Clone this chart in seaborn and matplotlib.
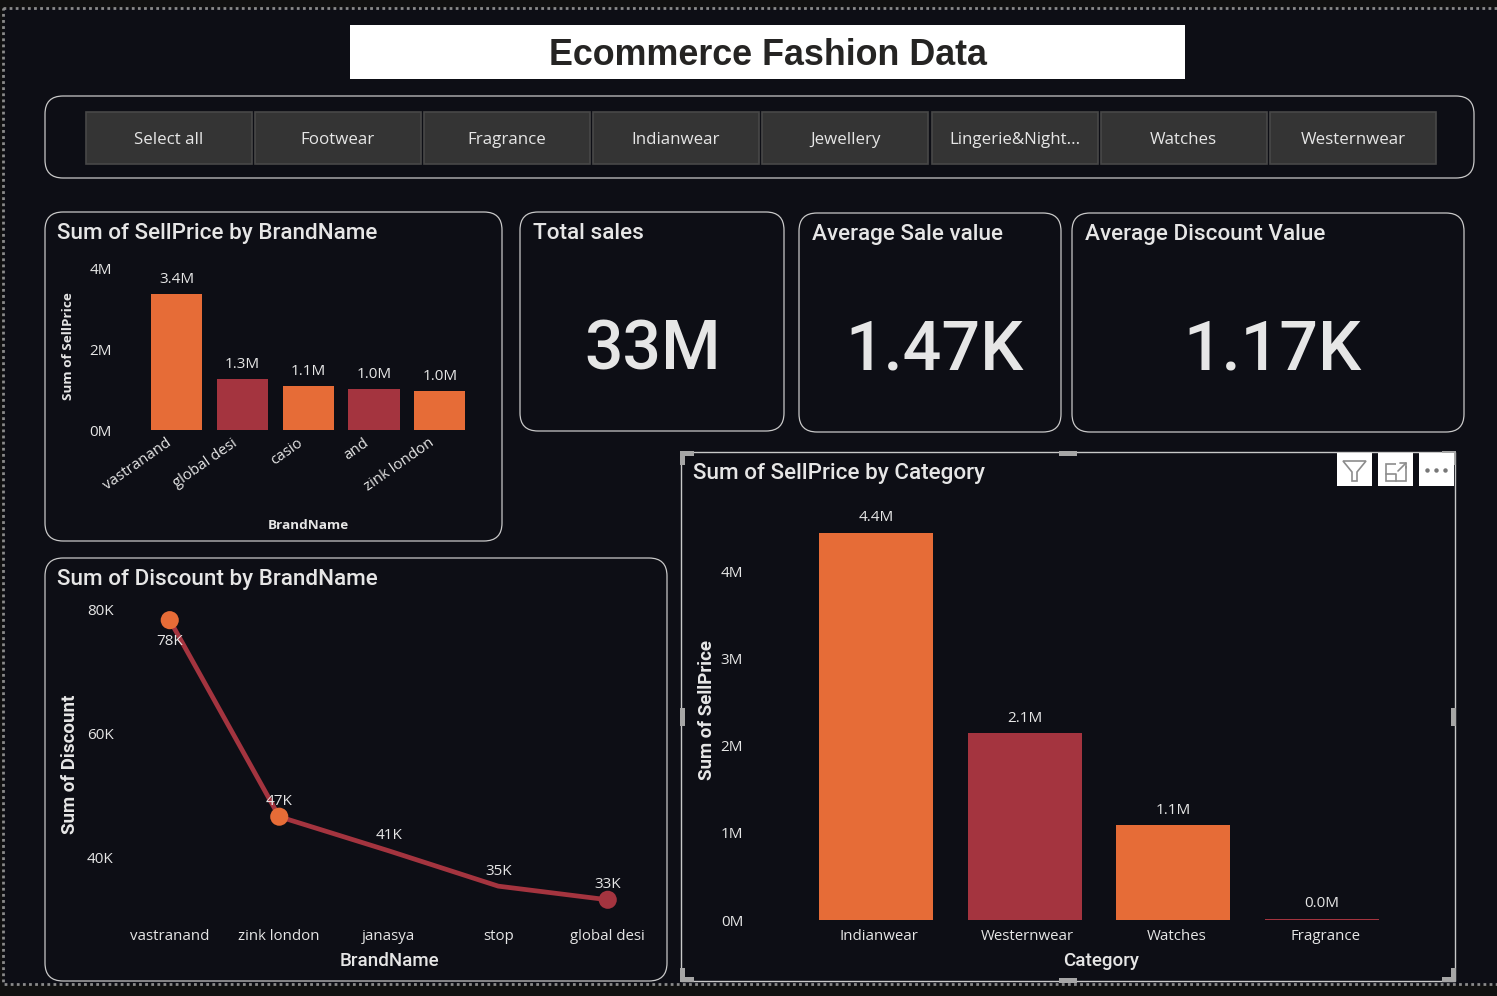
import seaborn as sns
import pandas as pd
from matplotlib import pyplot as plt
from matplotlib.patches import FancyBboxPatch, Rectangle, Polygon
from matplotlib.transforms import ScaledTranslation

# data
brand_names = ['vastranand', 'global desi', 'casio', 'and', 'zink london']
brand_sell = [3.36, 1.26, 1.09, 1.01, 0.96]
brand_labels = ['3.4M', '1.3M', '1.1M', '1.0M', '1.0M']

disc_names = ['vastranand', 'zink london', 'janasya', 'stop', 'global desi']
disc_values = [78.2, 46.5, 41.0, 35.3, 33.1]
disc_labels = ['78K', '47K', '41K', '35K', '33K']

cat_names = ['Indianwear', 'Westernwear', 'Watches', 'Fragrance']
cat_sell = [4.44, 2.14, 1.09, 0.016]
cat_labels = ['4.4M', '2.1M', '1.1M', '0.0M']

slicer_names = ['Select all', 'Footwear', 'Fragrance', 'Indianwear', 'Jewellery',
                'Lingerie&Night...', 'Watches', 'Westernwear']
kpi_titles = ['Total sales', 'Average Sale value', 'Average Discount Value']
kpi_values = ['33M', '1.47K', '1.17K']

W, H = 1497, 996
BG = '#0d0e15'
ORANGE = '#e66c37'
RED = '#a4343f'
TXT = '#e6e6e6'
HEAD = 'Roboto'
BODY = 'Open Sans'

sns.set_theme(style='dark')
plt.rcParams['font.family'] = ['Open Sans', 'DejaVu Sans']
plt.rcParams['axes.grid'] = False

fig = plt.figure(figsize=(W / 100, H / 100), dpi=100, facecolor='#111111')

bg = fig.add_axes([0, 0, 1, 1], zorder=0)
bg.set_xlim(0, W)
bg.set_ylim(H, 0)
bg.axis('off')


def px_axes(left, top, right, bottom):
    ax = fig.add_axes([left / W, 1 - bottom / H, (right - left) / W, (bottom - top) / H], zorder=2)
    ax.patch.set_alpha(0)
    for s in ax.spines.values():
        s.set_visible(False)
    ax.tick_params(length=0, colors=TXT)
    return ax


def card(x0, y0, x1, y1, r=18, lw=0.9, color='#c8c8c8'):
    bg.add_patch(FancyBboxPatch((x0 + r, y0 + r), x1 - x0 - 2 * r, y1 - y0 - 2 * r,
                                boxstyle='round,pad=%d,rounding_size=%d' % (r, r),
                                fc='none', ec=color, lw=lw))


def head(x, y, s):
    bg.text(x, y, s, color=TXT, fontsize=16.2, family=HEAD, fontweight='medium', va='center', ha='left')


# page
bg.add_patch(Rectangle((3, 8), W, 976, fc=BG, ec='#8a8a8a', lw=2, ls=(0, (1, 1.2))))

# title banner
bg.add_patch(Rectangle((350, 25), 835, 54, fc='white', ec='none'))
bg.text(768, 55, 'Ecommerce Fashion Data', color='#252423', fontsize=25.8, fontweight='bold',
        family='Liberation Sans', ha='center', va='center')

# slicer
card(45, 96, 1474, 178, r=18)
for i, name in enumerate(slicer_names):
    x0 = 85.5 + i * 169.2
    bg.add_patch(Rectangle((x0, 111.5), 166, 52, fc='#343434', ec='#484848', lw=1.2))
    bg.text(x0 + 83, 140, name, color=TXT, fontsize=12.2, family=BODY, ha='center', va='center')

# cards
card(45, 212, 502, 541)
head(57, 233, 'Sum of SellPrice by BrandName')
card(520, 212, 784, 431)
card(799, 213, 1061, 432)
card(1072, 213, 1464, 432)
card(45, 558, 667, 981)
head(57, 579, 'Sum of Discount by BrandName')

kpi_x = [(533, 233, 653), (812, 234, 934), (1085, 234, 1272)]
for (tx, ty, vx), t, v in zip(kpi_x, kpi_titles, kpi_values):
    head(tx, ty, t)
    bg.text(vx, 350, v, color=TXT, fontsize=49, family=HEAD, fontweight='medium', ha='center', va='center')

# brand bars
df_brand = pd.DataFrame({'brand': brand_names, 'sell': brand_sell})
ax1 = px_axes(143.7, 268, 472.7, 430)
sns.barplot(data=df_brand, x='brand', y='sell', hue='brand', ax=ax1, width=0.776, legend=False,
            palette=[ORANGE, RED, ORANGE, RED, ORANGE], saturation=1, linewidth=0, edgecolor='none')
ax1.set_ylim(0, 4)
ax1.set_xlim(-0.5, 4.5)
ax1.set_yticks([0, 2, 4])
ax1.set_yticklabels(['0M', '2M', '4M'], fontsize=11, color=TXT, family=BODY)
ax1.tick_params(axis='y', pad=23)
ax1.set_xticks(range(len(brand_names)))
ax1.set_xticklabels(brand_names, rotation=35, ha='right', rotation_mode='anchor',
                    fontsize=10.8, color=TXT, family=BODY)
ax1.tick_params(axis='x', pad=4)
shift = ScaledTranslation(-11 / 100, 0, fig.dpi_scale_trans)
for lab in ax1.get_xticklabels():
    lab.set_transform(lab.get_transform() + shift)
for i, v in enumerate(brand_sell):
    ax1.annotate(brand_labels[i], (i, v), xytext=(0, 8), textcoords='offset points', ha='center',
                 color=TXT, fontsize=11, family=BODY)
ax1.set_ylabel('Sum of SellPrice', color=TXT, fontsize=9.7, fontweight='bold', family=BODY)
ax1.yaxis.set_label_coords((74 - 143) / 329, (430 - 346) / 162)
ax1.set_xlabel('BrandName', color=TXT, fontsize=9.7, fontweight='bold', family=BODY)
ax1.xaxis.set_label_coords((308 - 143) / 329, (430 - 525) / 162)
ax1.xaxis.label.set_va('center')

# discount line
df_disc = pd.DataFrame({'brand': disc_names, 'discount': disc_values})
ax2 = px_axes(115, 600, 662.5, 920)
sns.lineplot(data=df_disc, x='brand', y='discount', ax=ax2, color=RED, lw=3.4, sort=False)
sns.scatterplot(data=df_disc.iloc[[0, 1]], x='brand', y='discount', ax=ax2, color=ORANGE, s=170,
                edgecolor='none', zorder=3)
sns.scatterplot(data=df_disc.iloc[[4]], x='brand', y='discount', ax=ax2, color=RED, s=170,
                edgecolor='none', zorder=3)
ax2.set_xlim(-0.5, 4.5)
ax2.set_ylim(80 - 320 / 6.2 + 9 / 6.2, 80 + 9 / 6.2)
ax2.set_yticks([40, 60, 80])
ax2.set_yticklabels(['40K', '60K', '80K'], fontsize=11, color=TXT, family=BODY)
ax2.tick_params(axis='y', pad=1)
ax2.set_xticks(range(len(disc_names)))
ax2.set_xticklabels(disc_names, fontsize=10.8, color=TXT, family=BODY)
ax2.tick_params(axis='x', pad=6.5)
label_off = [-21, 15, 15, 15, 15]
for i, v in enumerate(disc_values):
    ax2.annotate(disc_labels[i], (i, v), xytext=(0, label_off[i]), textcoords='offset pixels',
                 ha='center', va='center', color=TXT, fontsize=11, family=BODY)
ax2.set_ylabel('Sum of Discount', color=TXT, fontsize=13.5, fontweight='bold', family=HEAD)
ax2.yaxis.set_label_coords((79 - 115) / 547.5, (920 - 764) / 320)
ax2.set_xlabel('BrandName', color=TXT, fontsize=13.5, fontweight='medium', family=HEAD)
ax2.xaxis.set_label_coords((389 - 115) / 547.5, (920 - 961) / 320)
ax2.xaxis.label.set_va('center')

# category bars, the tick labels sit a little right of the bars
df_cat = pd.DataFrame({'category': cat_names, 'sell': cat_sell})
ax3 = px_axes(801.5, 500, 1396.5, 920)
sns.barplot(data=df_cat, x='category', y='sell', hue='category', ax=ax3, width=0.765, legend=False,
            palette=[ORANGE, RED, ORANGE, RED], saturation=1, linewidth=0, edgecolor='none')
ax3.set_xlim(-0.5, 3.5)
ax3.set_ylim(0, 420 / 87.25)
ax3.set_yticks(range(5))
ax3.set_yticklabels(['0M', '1M', '2M', '3M', '4M'], fontsize=11, color=TXT, family=BODY)
ax3.tick_params(axis='y', pad=42)
ax3.set_xticks(range(len(cat_names)))
ax3.set_xticklabels(cat_names, fontsize=10.8, color=TXT, family=BODY)
ax3.tick_params(axis='x', pad=6.5)
shift3 = ScaledTranslation(3 / 100, 0, fig.dpi_scale_trans)
for lab in ax3.get_xticklabels():
    lab.set_transform(lab.get_transform() + shift3)
for i, v in enumerate(cat_sell):
    ax3.annotate(cat_labels[i], (i, v), xytext=(0, 8), textcoords='offset points', ha='center',
                 color=TXT, fontsize=11, family=BODY)
ax3.set_ylabel('Sum of SellPrice', color=TXT, fontsize=13.5, fontweight='bold', family=HEAD)
ax3.yaxis.set_label_coords((716 - 801.5) / 595, (920 - 710) / 420)
ax3.set_xlabel('Category', color=TXT, fontsize=13.5, fontweight='medium', family=HEAD)
ax3.xaxis.set_label_coords((1101 - 801.5) / 595, (920 - 961) / 420)
ax3.xaxis.label.set_va('center')

# selected visual frame, handles and header icons
bg.add_patch(Rectangle((681, 452), 774, 529, fc='none', ec='#c8c8c8', lw=1))
head(693, 473, 'Sum of SellPrice by Category')
HANDLE = '#a6a6a6'
for x, y, w, h in [(680, 451, 14, 5), (680, 451, 5, 14), (1442, 451, 14, 5), (1451, 451, 5, 14),
                   (680, 977, 14, 5), (680, 968, 5, 14), (1442, 977, 14, 5), (1451, 968, 5, 14),
                   (1059, 451, 18, 5), (1059, 978, 18, 5), (680, 708, 5, 18), (1451, 708, 5, 18)]:
    bg.add_patch(Rectangle((x, y), w, h, fc=HANDLE, ec='none'))
for x in [1337, 1378, 1419]:
    bg.add_patch(Rectangle((x, 453), 35, 33, fc='white', ec='none'))
bg.add_patch(Polygon([(1343, 461), (1366, 461), (1357, 472), (1357, 481), (1352, 481), (1352, 472)],
                     fc='none', ec='#8c8c8c', lw=1.2))
bg.add_patch(Rectangle((1386, 464), 20, 17, fc='none', ec='#8c8c8c', lw=1.2))
bg.plot([1386, 1396, 1396], [474, 474, 481], color='#8c8c8c', lw=1.2)
bg.add_patch(Rectangle((1396, 459), 12, 7, fc='white', ec='none'))
bg.plot([1400, 1406, 1406], [463, 463, 468], color='#8c8c8c', lw=1.2)
bg.plot([1398, 1406], [471, 463], color='#8c8c8c', lw=1.2)
bg.plot([1427, 1436, 1445], [470, 470, 470], ls='none', marker='o', ms=2.2, color='#777777')

fig.savefig('out.png', dpi=100, facecolor=fig.get_facecolor())
